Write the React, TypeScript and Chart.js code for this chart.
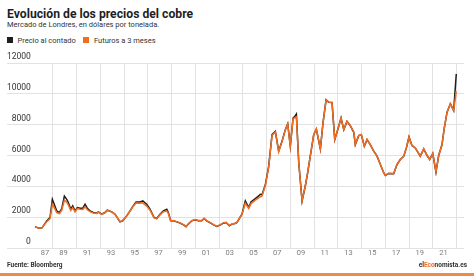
import { useEffect, useRef } from "react";
import { Chart, registerables } from "chart.js";

Chart.register(...registerables);

// Quarterly readings, decimal years
const years = [
  1986.51, 1986.79, 1987.1, 1987.49, 1987.77, 1987.97, 1988.34, 1988.56, 1988.76, 1988.98,
  1989.18, 1989.31, 1989.52, 1989.68, 1989.88, 1990.07, 1990.3, 1990.53, 1990.72, 1990.91,
  1991.14, 1991.42, 1991.7, 1991.84, 1992.12, 1992.4, 1992.6, 1992.97, 1993.24, 1993.66,
  1993.89, 1994.23, 1994.51, 1994.73, 1995.01, 1995.35, 1995.58, 1995.91, 1996.19, 1996.53,
  1996.75, 1997.03, 1997.31, 1997.6, 1997.73, 1997.93, 1998.15, 1998.44, 1998.72, 1999.05,
  1999.22, 1999.41, 1999.7, 1999.98, 2000.26, 2000.54, 2000.74, 2000.96, 2001.3, 2001.58,
  2001.8, 2002.08, 2002.36, 2002.59, 2002.87, 2003.07, 2003.35, 2003.51, 2003.93, 2004.21,
  2004.5, 2004.69, 2005.05, 2005.34, 2005.47, 2005.62, 2005.9, 2006.18, 2006.46, 2006.74,
  2007.02, 2007.3, 2007.58, 2007.78, 2008.0, 2008.23, 2008.42, 2008.51, 2008.71, 2008.99,
  2009.26, 2009.46, 2009.68, 2009.97, 2010.19, 2010.53, 2010.75, 2011.01, 2011.23, 2011.51,
  2011.74, 2011.99, 2012.27, 2012.5, 2012.77, 2013.05, 2013.34, 2013.47, 2013.76, 2013.98,
  2014.23, 2014.46, 2014.73, 2015.02, 2015.3, 2015.58, 2015.86, 2016.0, 2016.28, 2016.7,
  2016.98, 2017.26, 2017.55, 2017.77, 2017.99, 2018.24, 2018.52, 2018.94, 2019.23, 2019.51,
  2019.73, 2019.99, 2020.26, 2020.49, 2020.77, 2020.96, 2021.19, 2021.47, 2021.75, 2021.97,
];

// Precio al contado (USD/t)
const spotPrice = [
  1374, 1290, 1310, 1761, 1980, 3160, 2407, 2300, 2560, 3373,
  3160, 2946, 2515, 2730, 2407, 2623, 2580, 2580, 2838, 2580,
  2407, 2300, 2258, 2343, 2193, 2300, 2451, 2343, 2193, 1697,
  1763, 2085, 2407, 2688, 2989, 2989, 3052, 2838, 2515, 1978,
  1913, 2193, 2407, 2515, 2300, 1763, 1763, 1697, 1612, 1483,
  1374, 1548, 1763, 1827, 1763, 1763, 1913, 1763, 1612, 1483,
  1397, 1483, 1612, 1655, 1440, 1548, 1590, 1655, 2193, 3052,
  2623, 2990, 3204, 3376, 3483, 3450, 4128, 5310, 7353, 7568,
  6278, 6923, 7676, 8063, 6600, 8430, 8579, 8686, 5526, 3052,
  4020, 4880, 5956, 7353, 7718, 6428, 8106, 9610, 9460, 9438,
  7030, 7676, 8430, 7676, 8214, 7935, 7503, 6708, 7289, 7353,
  6600, 7030, 6708, 6278, 5956, 5418, 4880, 4710, 4838, 4817,
  5418, 5740, 5956, 6493, 7203, 6644, 6493, 5956, 6428, 5998,
  5740, 6128, 4923, 5998, 6708, 7783, 8795, 9353, 8923, 11290,
];

// Futuros a 3 meses (USD/t)
const futuresPrice = [
  1380, 1300, 1320, 1700, 1900, 2850, 2300, 2230, 2450, 3100,
  2980, 2800, 2430, 2620, 2350, 2560, 2520, 2500, 2680, 2480,
  2360, 2270, 2240, 2320, 2180, 2290, 2440, 2340, 2200, 1710,
  1780, 2090, 2400, 2660, 2920, 2900, 2930, 2720, 2450, 1950,
  1900, 2150, 2350, 2400, 2250, 1770, 1780, 1710, 1630, 1500,
  1390, 1560, 1780, 1840, 1780, 1780, 1920, 1780, 1630, 1500,
  1410, 1500, 1630, 1670, 1460, 1560, 1600, 1670, 2190, 2900,
  2560, 2880, 3100, 3250, 3320, 3376, 4050, 5250, 7300, 7520,
  6250, 6900, 7650, 8040, 6600, 8400, 8450, 8500, 5520, 3060,
  4030, 4890, 5960, 7360, 7720, 6440, 8110, 9600, 9460, 9430,
  7040, 7680, 8430, 7680, 8220, 7940, 7510, 6720, 7300, 7360,
  6610, 7040, 6700, 6280, 5960, 5420, 4890, 4720, 4850, 4830,
  5430, 5750, 5970, 6500, 7210, 6650, 6500, 5960, 6440, 6010,
  5750, 6140, 4940, 6000, 6710, 7790, 8800, 9350, 8920, 10150,
];

const gridYears = [
  1988, 1990, 1992, 1994, 1996, 1998, 2000, 2002, 2004, 2006, 2008, 2010, 2012, 2014, 2016,
  2018, 2020, 2022,
];
const yearLabelPos = [
  1987.35, 1988.9, 1990.9, 1992.9, 1994.9, 1996.9, 1998.9, 2000.9, 2002.9, 2004.9, 2006.9,
  2008.9, 2010.9, 2012.9, 2014.9, 2016.9, 2018.9, 2020.9,
];
const yearLabels = [
  "87", "89", "91", "93", "95", "97", "99", "01", "03", "05", "07", "09", "11", "13", "15",
  "17", "19", "21",
];
const priceTicks = [0, 2000, 4000, 6000, 8000, 10000, 12000];

const DARK = "#1e1e1e";
const ORANGE = "#f26d21";
const GRID = "#e2e2e2";
const FONT = "Roboto, 'Noto Sans', sans-serif";

export default function App() {
  const canvasRef = useRef<HTMLCanvasElement>(null);

  useEffect(() => {
    const canvas = canvasRef.current;
    if (!canvas) return;
    const chart = new Chart(canvas, {
      type: "line",
      data: {
        datasets: [
          {
            label: "Futuros a 3 meses",
            data: years.map((x, i) => ({ x, y: futuresPrice[i] })),
            borderColor: ORANGE,
            borderWidth: 1.5,
            pointRadius: 0,
            tension: 0,
            order: 0,
          },
          {
            label: "Precio al contado",
            data: years.map((x, i) => ({ x, y: spotPrice[i] })),
            borderColor: DARK,
            borderWidth: 1.5,
            pointRadius: 0,
            tension: 0,
            order: 1,
          },
        ],
      },
      options: {
        animation: false,
        responsive: false,
        maintainAspectRatio: false,
        layout: { padding: { left: 7, right: 10, top: 17, bottom: 3 } },
        plugins: { legend: { display: false }, tooltip: { enabled: false } },
        scales: {
          x: {
            type: "linear",
            min: 1984.15,
            max: 2022.62,
            afterBuildTicks: (axis: any) => {
              axis.ticks = [...gridYears, ...yearLabelPos]
                .sort((a, b) => a - b)
                .map((value) => ({ value }));
            },
            ticks: {
              autoSkip: false,
              maxRotation: 0,
              padding: 1,
              color: "#7c7c7c",
              font: { family: FONT, size: 7.5 },
              callback: (v: any) => {
                const i = yearLabelPos.indexOf(Number(v));
                return i >= 0 ? yearLabels[i] : "";
              },
            },
            grid: {
              color: (ctx: any) =>
                ctx.tick && gridYears.includes(ctx.tick.value) ? GRID : "rgba(0,0,0,0)",
              drawTicks: false,
            },
            border: { display: false },
          },
          y: {
            type: "linear",
            min: 0,
            max: 12000,
            afterBuildTicks: (axis: any) => {
              axis.ticks = priceTicks.map((value) => ({ value }));
            },
            ticks: {
              mirror: true,
              crossAlign: "far",
              padding: 0,
              labelOffset: -6,
              color: "#333333",
              font: { family: FONT, size: 8.5 },
              callback: (v: any) => String(v),
            },
            grid: { color: GRID, drawTicks: false },
            border: { display: false },
          },
        },
      },
    });
    return () => chart.destroy();
  }, []);

  const text = (extra: React.CSSProperties): React.CSSProperties => ({
    position: "absolute",
    whiteSpace: "nowrap",
    lineHeight: 1,
    ...extra,
  });

  return (
    <div
      style={{
        position: "absolute",
        left: 0,
        top: 0,
        width: 474,
        height: 276,
        background: "#ffffff",
        fontFamily: FONT,
        overflow: "hidden",
      }}
    >
      <div style={text({ left: 7, top: 8.2, fontSize: 12.2, fontWeight: 700, color: "#1f1f1f" })}>
        Evolución de los precios del cobre
      </div>
      <div style={text({ left: 7, top: 21.4, fontSize: 7.5, color: "#333" })}>
        Mercado de Londres, en dólares por tonelada.
      </div>
      <div style={{ position: "absolute", left: 7, top: 37, width: 6, height: 6, background: DARK }} />
      <div style={text({ left: 17.5, top: 36.7, fontSize: 7.5, color: "#333" })}>Precio al contado</div>
      <div style={{ position: "absolute", left: 82.5, top: 37, width: 6, height: 6, background: ORANGE }} />
      <div style={text({ left: 94, top: 36.7, fontSize: 7.5, color: "#333" })}>Futuros a 3 meses</div>

      <canvas
        ref={canvasRef}
        width={474}
        height={216}
        style={{ position: "absolute", left: 0, top: 46, width: 474, height: 216 }}
      />

      <div style={text({ left: 7, top: 261.5, fontSize: 6.5, fontWeight: 700, color: "#333" })}>
        Fuente: Bloomberg
      </div>
      <div style={text({ right: 7, top: 261.5, fontSize: 6.5, fontWeight: 700, color: "#333" })}>
        el<span style={{ color: ORANGE }}>Eco</span>nomista.es
      </div>
      <div
        style={{ position: "absolute", left: 0, bottom: 0, width: 474, height: 3, background: "#f08a4b" }}
      />
    </div>
  );
}
